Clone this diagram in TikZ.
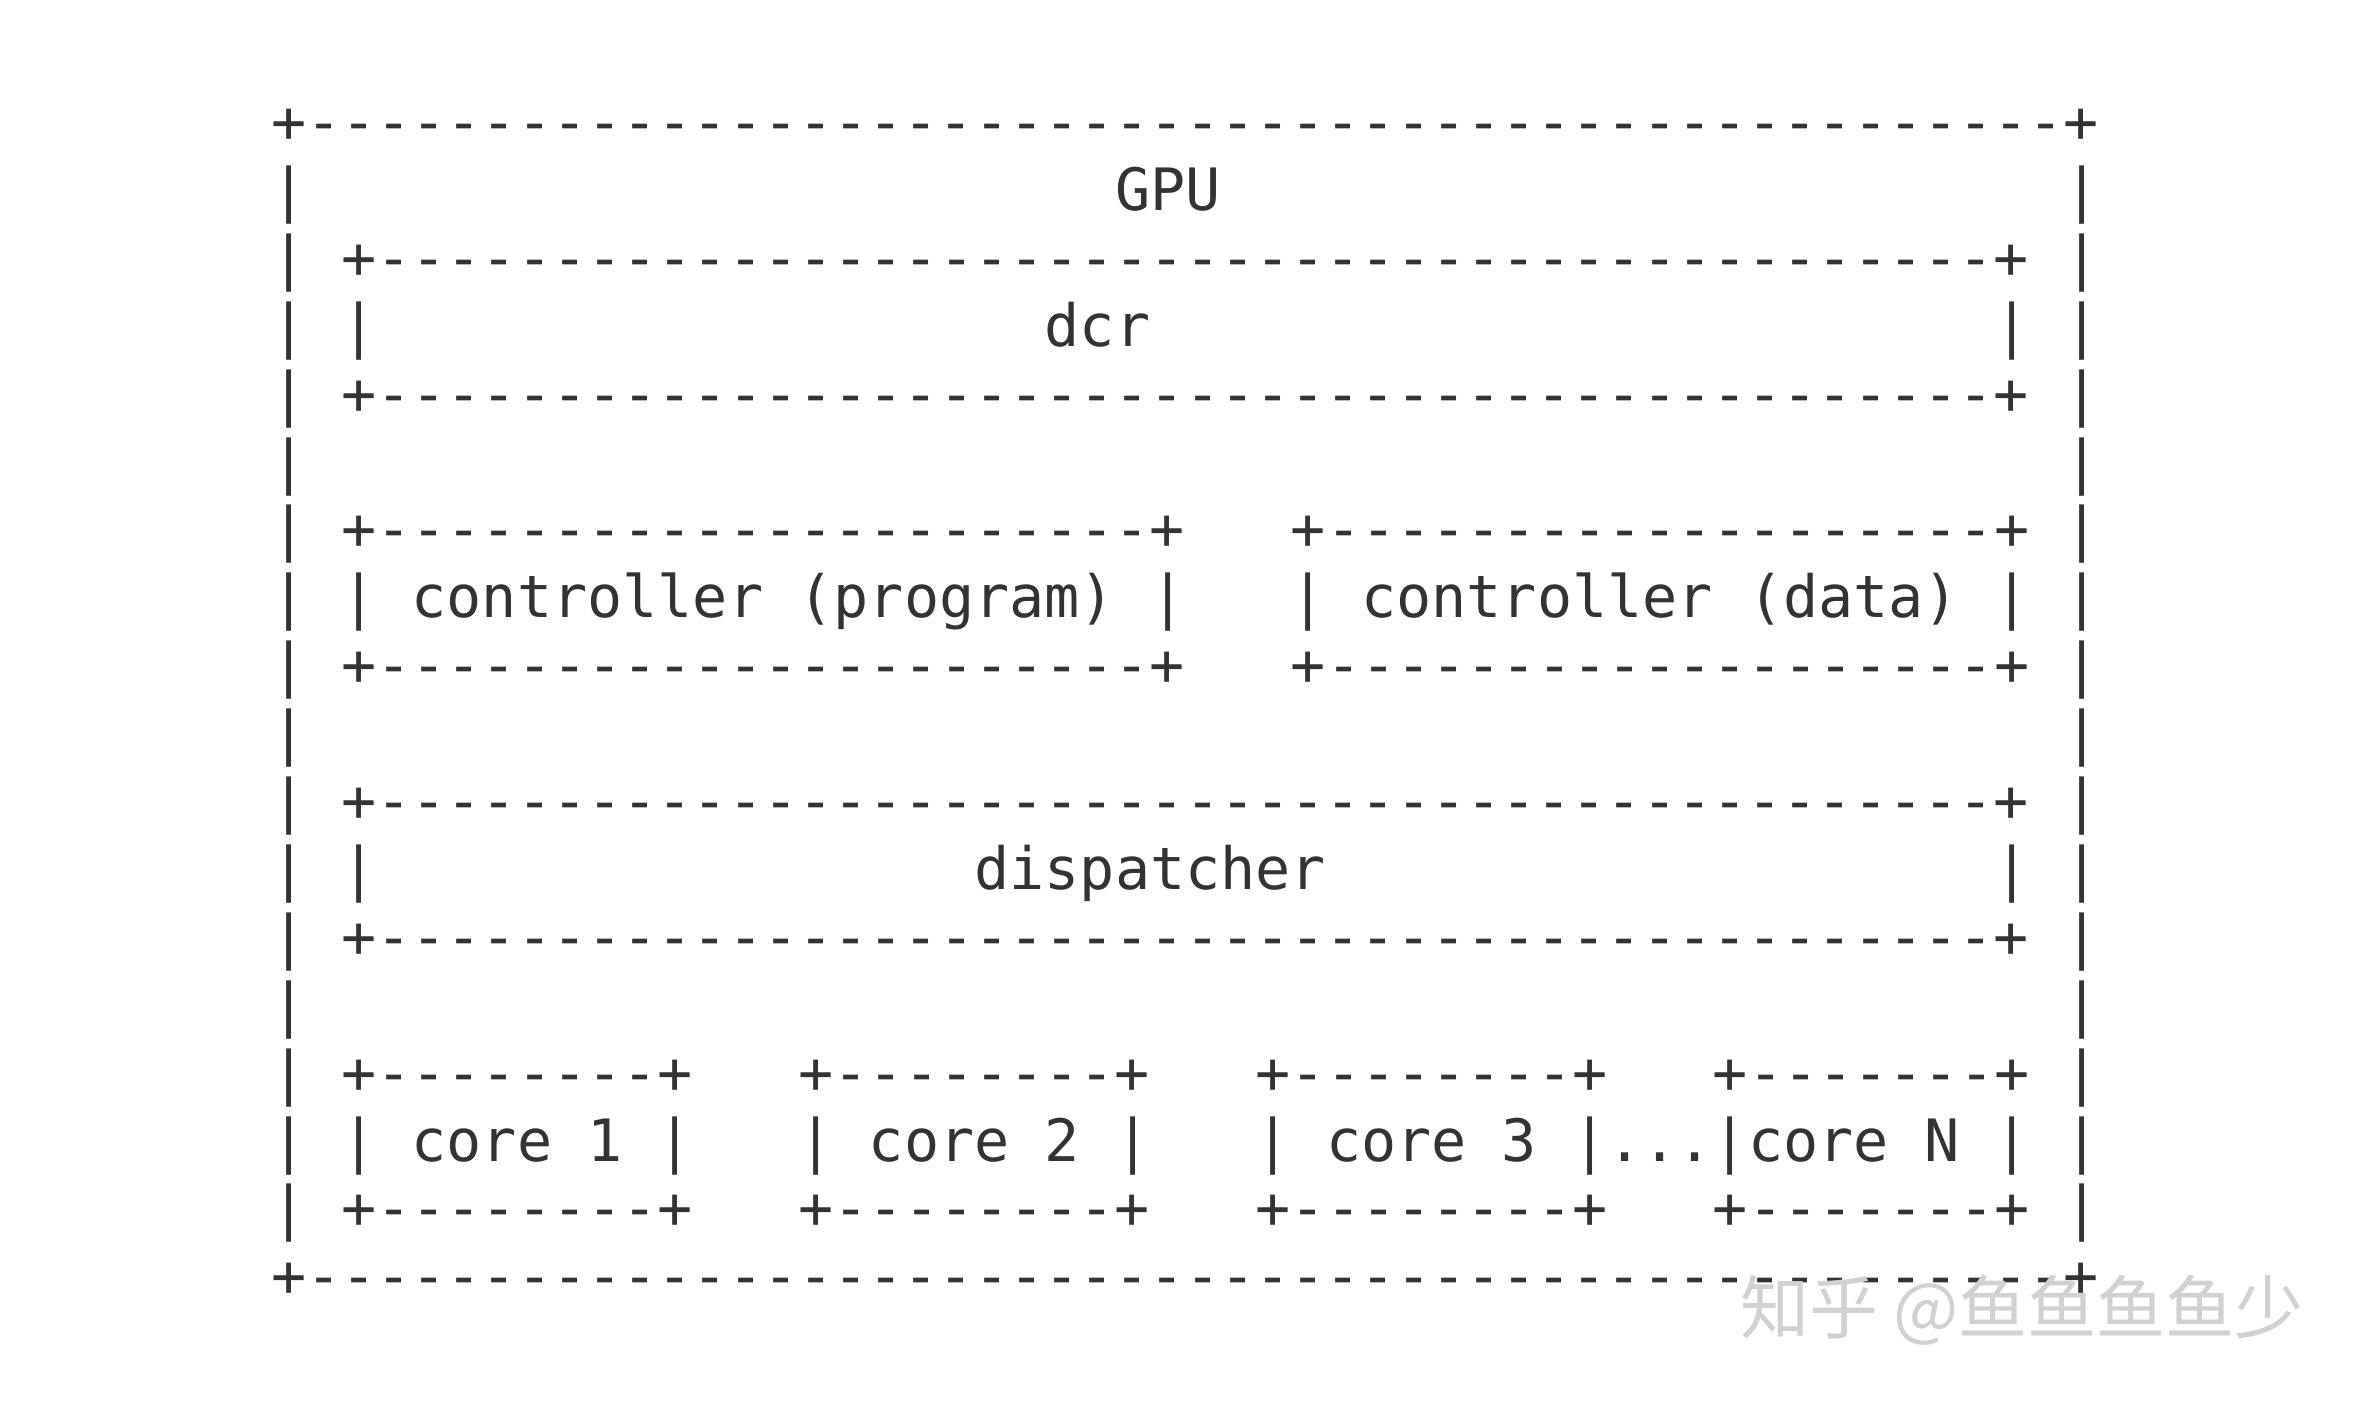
\documentclass[tikz,border=0pt]{standalone}
\usepackage{fontspec}
\newfontfamily\asciimono[WordSpace={1,0,0}]{DejaVu Sans Mono}
\newfontfamily\cjkwm{Noto Sans CJK SC}
\definecolor{ink}{HTML}{333333}
\newcount\dashcnt
\newcommand\dashes[1]{\dashcnt=0 \loop\ifnum\dashcnt<#1 -\advance\dashcnt by1 \repeat}
\newcommand\seg[3]{\node[txt] at ({271+35.17*#2},{-(142.5+67.9*#1)}) {#3};}
\begin{document}
\begin{tikzpicture}[x=1pt,y=1pt,
  txt/.style={anchor=base west,inner sep=0pt,outer sep=0pt,text=ink,font=\asciimono\fontsize{58.4}{68}\selectfont}]
\fill[white] (0,0) rectangle (2370,-1403);
\useasboundingbox (0,0) rectangle (2370,-1403);
% outer frame
\seg{0}{0}{+\dashes{50}+}
\seg{17}{0}{+\dashes{50}+}
\foreach \r in {1,...,16}{\seg{\r}{0}{|}\seg{\r}{51}{|}}
\seg{1}{24}{GPU}
% dcr
\seg{2}{2}{+\dashes{46}+}
\seg{3}{2}{|}\seg{3}{22}{dcr}\seg{3}{49}{|}
\seg{4}{2}{+\dashes{46}+}
% controllers
\seg{6}{2}{+\dashes{22}+}\seg{6}{29}{+\dashes{19}+}
\seg{7}{2}{|}\seg{7}{4}{controller}\seg{7}{15}{(program)}\seg{7}{25}{|}
\seg{7}{29}{|}\seg{7}{31}{controller}\seg{7}{42}{(data)}\seg{7}{49}{|}
\seg{8}{2}{+\dashes{22}+}\seg{8}{29}{+\dashes{19}+}
% dispatcher
\seg{10}{2}{+\dashes{46}+}
\seg{11}{2}{|}\seg{11}{20}{dispatcher}\seg{11}{49}{|}
\seg{12}{2}{+\dashes{46}+}
% cores
\foreach \r in {14,16}{\seg{\r}{2}{+\dashes{8}+}\seg{\r}{15}{+\dashes{8}+}\seg{\r}{28}{+\dashes{8}+}\seg{\r}{41}{+\dashes{7}+}}
\seg{15}{2}{|}\seg{15}{4}{core}\seg{15}{9}{1}\seg{15}{11}{|}
\seg{15}{15}{|}\seg{15}{17}{core}\seg{15}{22}{2}\seg{15}{24}{|}
\seg{15}{28}{|}\seg{15}{30}{core}\seg{15}{35}{3}\seg{15}{37}{|...|core}\seg{15}{47}{N}\seg{15}{49}{|}
% watermark
\node[text=black!18,font=\cjkwm\fontsize{69}{75}\selectfont,inner sep=0pt] (wm) at (2022,-1310) {知乎 @鱼鱼鱼鱼少};
\end{tikzpicture}
\end{document}
